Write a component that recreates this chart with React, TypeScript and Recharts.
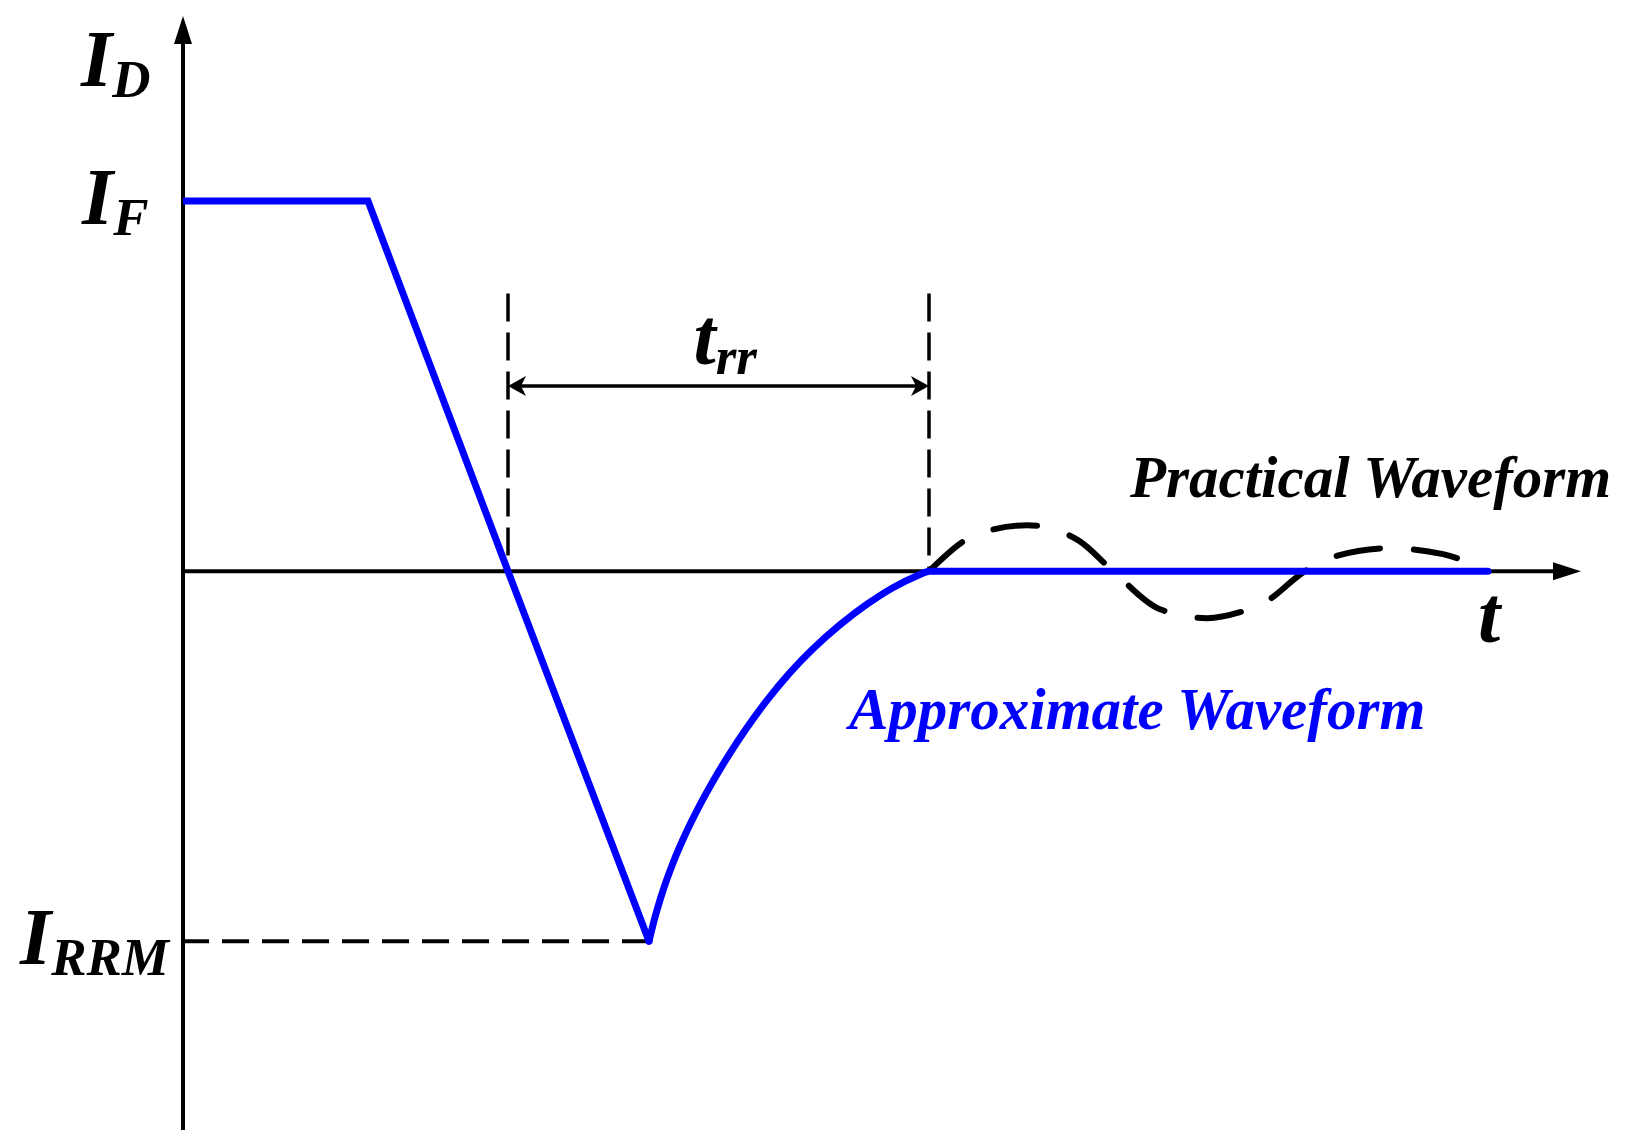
import React from 'react';
import { ComposedChart, Line, XAxis, YAxis, ReferenceLine, ReferenceDot } from 'recharts';

// Approximate waveform: linear ramp from I_F down to -I_RRM
const rampT = [0, 1.85, 3.25, 4.66];
const rampI = [1, 1, 0, -1];
// Approximate waveform: recovery tail back to zero, then flat
const recoveryT = [4.66, 4.72, 4.8, 4.905, 5.02, 5.155, 5.31, 5.453, 5.637, 5.837, 6.07, 6.303, 6.57, 6.837, 7.103, 7.337, 7.47, 13.05];
const recoveryI = [-1, -0.935, -0.863, -0.785, -0.713, -0.639, -0.563, -0.499, -0.424, -0.35, -0.274, -0.209, -0.145, -0.09, -0.044, -0.013, 0, 0];
// Practical waveform: damped ringing after recovery
const practicalT = [7.46, 7.92, 8.44, 8.95, 9.3, 9.77, 10.24, 10.57, 10.82, 11.22, 11.52, 12.07, 12.6, 13.05];
const practicalI = [0, 0.097, 0.124, 0.084, 0, -0.103, -0.127, -0.111, -0.084, 0, 0.04, 0.062, 0.046, 0];

// Current axis levels and their subscripts
const yTicks = [1, -1];
const yTickSubs = ['F', 'RRM'];
const yAxisTitleSub = 'D';
const xAxisTitle = 't';

// Reverse recovery interval
const trrStart = 3.25;
const trrEnd = 7.46;
const trrMarkTop = 0.75;
const trrArrowLevel = 0.5;

const seriesNames = ['Practical Waveform', 'Approximate Waveform'];

const toRows = (ts: number[], is: number[]) => ts.map((t, k) => ({ t, i: is[k] }));
const rampData = toRows(rampT, rampI);
const recoveryData = toRows(recoveryT, recoveryI);
const practicalData = toRows(practicalT, practicalI);

const BLUE = '#0000FF';
const FONT: React.CSSProperties = {
  fontFamily: '"Liberation Serif", "Times New Roman", serif',
  fontWeight: 700,
  fontStyle: 'italic',
};

const AxisArrow = (props: any) => {
  const { x1, y1, x2, y2 } = props;
  const len = Math.hypot(x2 - x1, y2 - y1) || 1;
  const ux = (x2 - x1) / len;
  const uy = (y2 - y1) / len;
  const L = 28;
  const W = 9;
  const bx = x2 - ux * L;
  const by = y2 - uy * L;
  const px = -uy;
  const py = ux;
  return (
    <g>
      <line x1={x1} y1={y1} x2={bx + ux * 2} y2={by + uy * 2} stroke="#000" strokeWidth={4} />
      <polygon
        points={`${x2},${y2} ${bx + px * W},${by + py * W} ${bx - px * W},${by - py * W}`}
        fill="#000"
      />
    </g>
  );
};

const DoubleArrow = (props: any) => {
  const { x1, y1, x2, y2 } = props;
  const left = Math.min(x1, x2);
  const right = Math.max(x1, x2);
  const y = y1;
  const L = 18;
  const W = 10;
  const N = 13;
  return (
    <g>
      <line x1={left + 4} y1={y} x2={right - 4} y2={y2} stroke="#000" strokeWidth={3.5} />
      <polygon
        points={`${left},${y} ${left + L},${y - W} ${left + N},${y} ${left + L},${y + W}`}
        fill="#000"
      />
      <polygon
        points={`${right},${y} ${right - L},${y - W} ${right - N},${y} ${right - L},${y + W}`}
        fill="#000"
      />
    </g>
  );
};

const CurrentTick = (props: any) => {
  const { x, y, payload } = props;
  const idx = yTicks.indexOf(payload.value);
  const sub = yTickSubs[idx] ?? '';
  const startX = sub.length > 1 ? x - 163 : x - 101;
  return (
    <text x={startX} y={y + 23} fill="#000" style={FONT}>
      <tspan fontSize={80}>I</tspan>
      <tspan fontSize={53} dy={11}>
        {sub}
      </tspan>
    </text>
  );
};

const renderYTitle = (p: any) => {
  const vb = p.viewBox || {};
  const x = vb.x + vb.width - 102;
  const y = vb.y + 70;
  return (
    <text x={x} y={y} fill="#000" style={FONT}>
      <tspan fontSize={80}>I</tspan>
      <tspan fontSize={53} dy={11}>
        {yAxisTitleSub}
      </tspan>
    </text>
  );
};

const renderTrr = (p: any) => {
  const vb = p.viewBox || {};
  const mid = vb.x + vb.width / 2;
  return (
    <text x={mid - 25} y={vb.y - 22} fill="#000" style={FONT}>
      <tspan fontSize={80}>t</tspan>
      <tspan fontSize={53} dy={10}>
        rr
      </tspan>
    </text>
  );
};

const renderXTitle = (p: any) => {
  const vb = p.viewBox || {};
  return (
    <text x={vb.x} y={vb.y} fill="#000" style={FONT} fontSize={80}>
      {xAxisTitle}
    </text>
  );
};

const renderName = (text: string, color: string) => (p: any) => {
  const vb = p.viewBox || {};
  return (
    <text x={vb.x} y={vb.y} fill={color} style={FONT} fontSize={59}>
      {text}
    </text>
  );
};

export default function App() {
  return (
    <div style={{ width: 1615, height: 1122, background: '#fff' }}>
      <ComposedChart
        width={1615}
        height={1122}
        margin={{ top: 8, right: 40, bottom: 0, left: 0 }}
      >
        <XAxis dataKey="t" type="number" domain={[0, 14]} hide allowDataOverflow />
        <YAxis
          type="number"
          domain={[-1.51, 1.5]}
          allowDataOverflow
          width={175}
          ticks={yTicks}
          interval={0}
          axisLine={false}
          tickLine={false}
          tickSize={0}
          tickMargin={0}
          tick={<CurrentTick />}
          label={{ content: renderYTitle }}
        />

        {/* axes with arrows */}
        <ReferenceLine
          segment={[{ x: 0, y: -1.51 }, { x: 0, y: 1.5 }]}
          ifOverflow="visible"
          shape={AxisArrow}
        />
        <ReferenceLine
          segment={[{ x: 0, y: 0 }, { x: 13.98, y: 0 }]}
          ifOverflow="visible"
          shape={AxisArrow}
        />

        {/* trr markers */}
        <ReferenceLine
          segment={[{ x: trrStart, y: trrMarkTop }, { x: trrStart, y: 0 }]}
          stroke="#000"
          strokeWidth={3.5}
          strokeDasharray="28 11"
          ifOverflow="visible"
        />
        <ReferenceLine
          segment={[{ x: trrEnd, y: trrMarkTop }, { x: trrEnd, y: 0 }]}
          stroke="#000"
          strokeWidth={3.5}
          strokeDasharray="28 11"
          ifOverflow="visible"
        />
        <ReferenceLine
          segment={[{ x: trrStart, y: trrArrowLevel }, { x: trrEnd, y: trrArrowLevel }]}
          ifOverflow="visible"
          shape={DoubleArrow}
          label={{ content: renderTrr }}
        />

        {/* I_RRM level */}
        <ReferenceLine
          segment={[{ x: rampT[rampT.length - 1], y: rampI[rampI.length - 1] }, { x: 0, y: rampI[rampI.length - 1] }]}
          stroke="#000"
          strokeWidth={4}
          strokeDasharray="27 13"
          ifOverflow="visible"
        />

        <Line
          data={practicalData}
          dataKey="i"
          type="monotone"
          stroke="#000"
          strokeWidth={6}
          strokeDasharray="44 34"
          strokeLinecap="round"
          dot={false}
          activeDot={false}
          isAnimationActive={false}
        />
        <Line
          data={rampData}
          dataKey="i"
          type="linear"
          stroke={BLUE}
          strokeWidth={7}
          strokeLinecap="round"
          dot={false}
          activeDot={false}
          isAnimationActive={false}
        />
        <Line
          data={recoveryData}
          dataKey="i"
          type="monotone"
          stroke={BLUE}
          strokeWidth={7}
          strokeLinecap="round"
          dot={false}
          activeDot={false}
          isAnimationActive={false}
        />

        <ReferenceDot
          x={12.95}
          y={-0.192}
          r={0.01}
          fill="none"
          stroke="none"
          ifOverflow="visible"
          label={{ content: renderXTitle }}
        />
        <ReferenceDot
          x={9.47}
          y={0.2}
          r={0.01}
          fill="none"
          stroke="none"
          ifOverflow="visible"
          label={{ content: renderName(seriesNames[0], '#000') }}
        />
        <ReferenceDot
          x={6.66}
          y={-0.427}
          r={0.01}
          fill="none"
          stroke="none"
          ifOverflow="visible"
          label={{ content: renderName(seriesNames[1], BLUE) }}
        />
      </ComposedChart>
    </div>
  );
}
